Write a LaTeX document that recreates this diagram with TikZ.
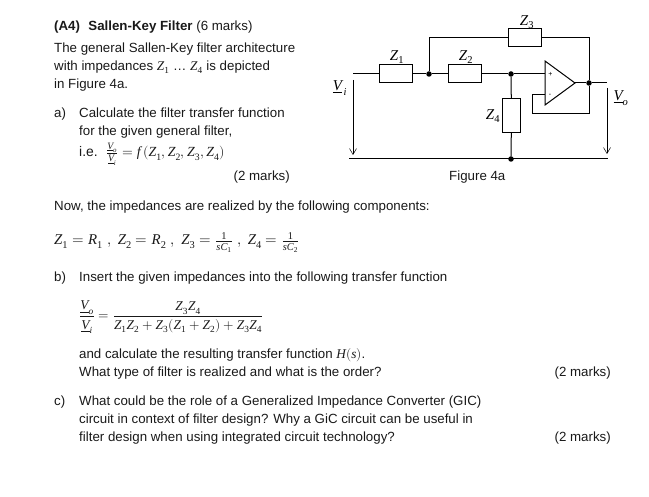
\documentclass[tikz,border=0pt]{standalone}
\usepackage{amsmath}
\usepackage{fontspec}
\usepackage{unicode-math}
\setmainfont{Liberation Sans}
\setmathfont{Latin Modern Math}
\setmathfont{Liberation Serif}[range=up]
\setmathfont{Liberation Serif Italic}[range={it/{Latin,latin}->up}]
\usetikzlibrary{positioning,shapes,arrows,arrows.meta}
\tikzset{
	txt/.style={anchor=base west, inner sep=0pt, text=black!90, font=\fontsize{13.3}{15}\selectfont},
	marks/.style={anchor=base east, inner sep=0pt, text=black!90, font=\fontsize{13.3}{15}\selectfont},
	zbox/.style={rectangle, draw, line width=1pt, inner sep=0pt, minimum width=33.5pt, minimum height=18pt},
	zlabel/.style={inner sep=0pt, font=\fontsize{15}{15}\selectfont},
	dot/.style={circle, fill, inner sep=0pt, minimum size=5.5pt},
	wire/.style={line width=1pt},
	volt/.style={-{Straight Barb[length=6pt,width=7pt]}, line width=0.5pt}
}
\begin{document}
\begin{tikzpicture}[x=1pt, y=-1pt]
	\useasboundingbox (0,0) rectangle (649,497);
	% circuit
	\coordinate (Vin) at (353, 74);
	\node[zbox] (Z1) at (396, 74) {};
	\node[dot] (J1) at (429, 74) {};
	\node[zbox] (Z2) at (465, 74) {};
	\node[dot] (J2) at (511, 74) {};
	\node[zbox] (Z3) at (525, 38) {};
	\node[zbox, minimum width=18pt, minimum height=33.5pt] (Z4) at (511.5, 115.5) {};
	\node[dot] (J3) at (511, 159) {};
	\node[dot] (J4) at (589, 83) {};
	\coordinate (Vout) at (607, 83);
	\coordinate (GndL) at (349, 159);
	\coordinate (GndR) at (608, 159);
	\coordinate (OpTop) at (545, 61);
	\coordinate (OpBot) at (545, 105);
	\coordinate (OpOut) at (575, 83);
	\coordinate (OpP) at (545, 74);
	\coordinate (OpN) at (545, 95);
	\coordinate (FbA) at (532, 95);
	\coordinate (FbB) at (532, 114);
	\coordinate (FbC) at (589, 114);
	\coordinate (TopL) at (429, 38);
	\coordinate (TopR) at (589, 38);
	\draw[wire] (OpTop) -- (OpOut) -- (OpBot) -- cycle;
	\draw[wire] (Vin) -- (Z1);
	\draw[wire] (Z1) -- (J1);
	\draw[wire] (J1) -- (Z2);
	\draw[wire] (Z2) -- (J2);
	\draw[wire] (J2) -- (OpP);
	\draw[wire] (OpOut) -- (J4);
	\draw[wire] (J4) -- (Vout);
	\draw[wire] (J1) -- (TopL) -- (Z3);
	\draw[wire] (Z3) -- (TopR) -- (J4);
	\draw[wire] (OpN) -- (FbA) -- (FbB) -- (FbC) -- (J4);
	\draw[wire] (J2) -- (Z4);
	\draw[wire] (Z4) -- (J3);
	\draw[wire] (GndL) -- (GndR);
	\coordinate (ViA) at (353, 80);
	\coordinate (ViB) at (353, 155);
	\coordinate (VoA) at (607, 88);
	\coordinate (VoB) at (607, 154);
	\draw[volt] (ViA) -- (ViB);
	\draw[volt] (VoA) -- (VoB);
	\node[inner sep=0pt, font=\fontsize{7}{7}\selectfont] (plus) at (550.5, 74.5) {+};
	\node[inner sep=0pt, font=\fontsize{7}{7}\selectfont] (minus) at (550, 95) {-};
	\node[zlabel] (LZ1) at (397, 57) {$Z_1$};
	\node[zlabel] (LZ2) at (466, 57) {$Z_2$};
	\node[zlabel] (LZ3) at (527, 22) {$Z_3$};
	\node[zlabel] (LZ4) at (493, 116) {$Z_4$};
	\node[zlabel] (LVi) at (340, 88) {$\underline{V}_{\,i}$};
	\node[zlabel] (LVo) at (621, 98) {$\underline{V}_{o}$};
	\node[txt] (Fig) at (449, 181) {Figure 4a};
	% text
	\node[txt] (T1) at (54, 30.5) {\textbf{(A4)\hspace{0.35em} Sallen-Key Filter} (6 marks)};
	\node[txt] (T2) at (54, 52.5) {The general Sallen-Key filter architecture};
	\node[txt] (T3) at (54, 70.5) {with impedances $Z_1$ \dots\ $Z_4$ is depicted};
	\node[txt] (T4) at (54, 88.5) {in Figure 4a.};
	\node[txt] (Ta) at (54, 117.5) {a)};
	\node[txt] (Ta1) at (79, 117.5) {Calculate the filter transfer function};
	\node[txt] (Ta2) at (79, 135.5) {for the given general filter,};
	\node[txt, font=\fontsize{13.9}{15}\selectfont] (Ta3) at (79, 157) {i.e.\hspace{0.6em}$\frac{\underline{V}_o}{\underline{V}_i} = f\,(Z_1, Z_2, Z_3, Z_4)$};
	\node[marks] (Ma) at (290, 181) {(2 marks)};
	\node[txt] (Tn) at (54, 210.5) {Now, the impedances are realized by the following components:};
	\node[txt, font=\fontsize{14.9}{15}\selectfont] (Eq1) at (54, 245) {$Z_1 = R_1\ ,\ Z_2 = R_2\ ,\ Z_3 = \frac{1}{sC_1}\ ,\ Z_4 = \frac{1}{sC_2}$};
	\node[txt] (Tb) at (54, 281.5) {b)};
	\node[txt] (Tb1) at (79, 281.5) {Insert the given impedances into the following transfer function};
	\node[txt, font=\fontsize{13.4}{14}\selectfont] (Eq2) at (79, 320) {$\displaystyle \frac{\underline{V}_o}{\underline{V}_i} = \frac{Z_3 Z_4}{Z_1 Z_2 + Z_3(Z_1 + Z_2) + Z_3 Z_4}$};
	\node[txt] (Tb2) at (79, 359) {and calculate the resulting transfer function $H(s)$.};
	\node[txt] (Tb3) at (79, 377) {What type of filter is realized and what is the order?};
	\node[marks] (Mb) at (611, 377) {(2 marks)};
	\node[txt] (Tc) at (54, 406) {c)};
	\node[txt] (Tc1) at (79, 406) {What could be the role of a Generalized Impedance Converter (GIC)};
	\node[txt] (Tc2) at (79, 424) {circuit in context of filter design? Why a GiC circuit can be useful in};
	\node[txt] (Tc3) at (79, 442) {filter design when using integrated circuit technology?};
	\node[marks] (Mc) at (611, 442) {(2 marks)};
\end{tikzpicture}
\end{document}
